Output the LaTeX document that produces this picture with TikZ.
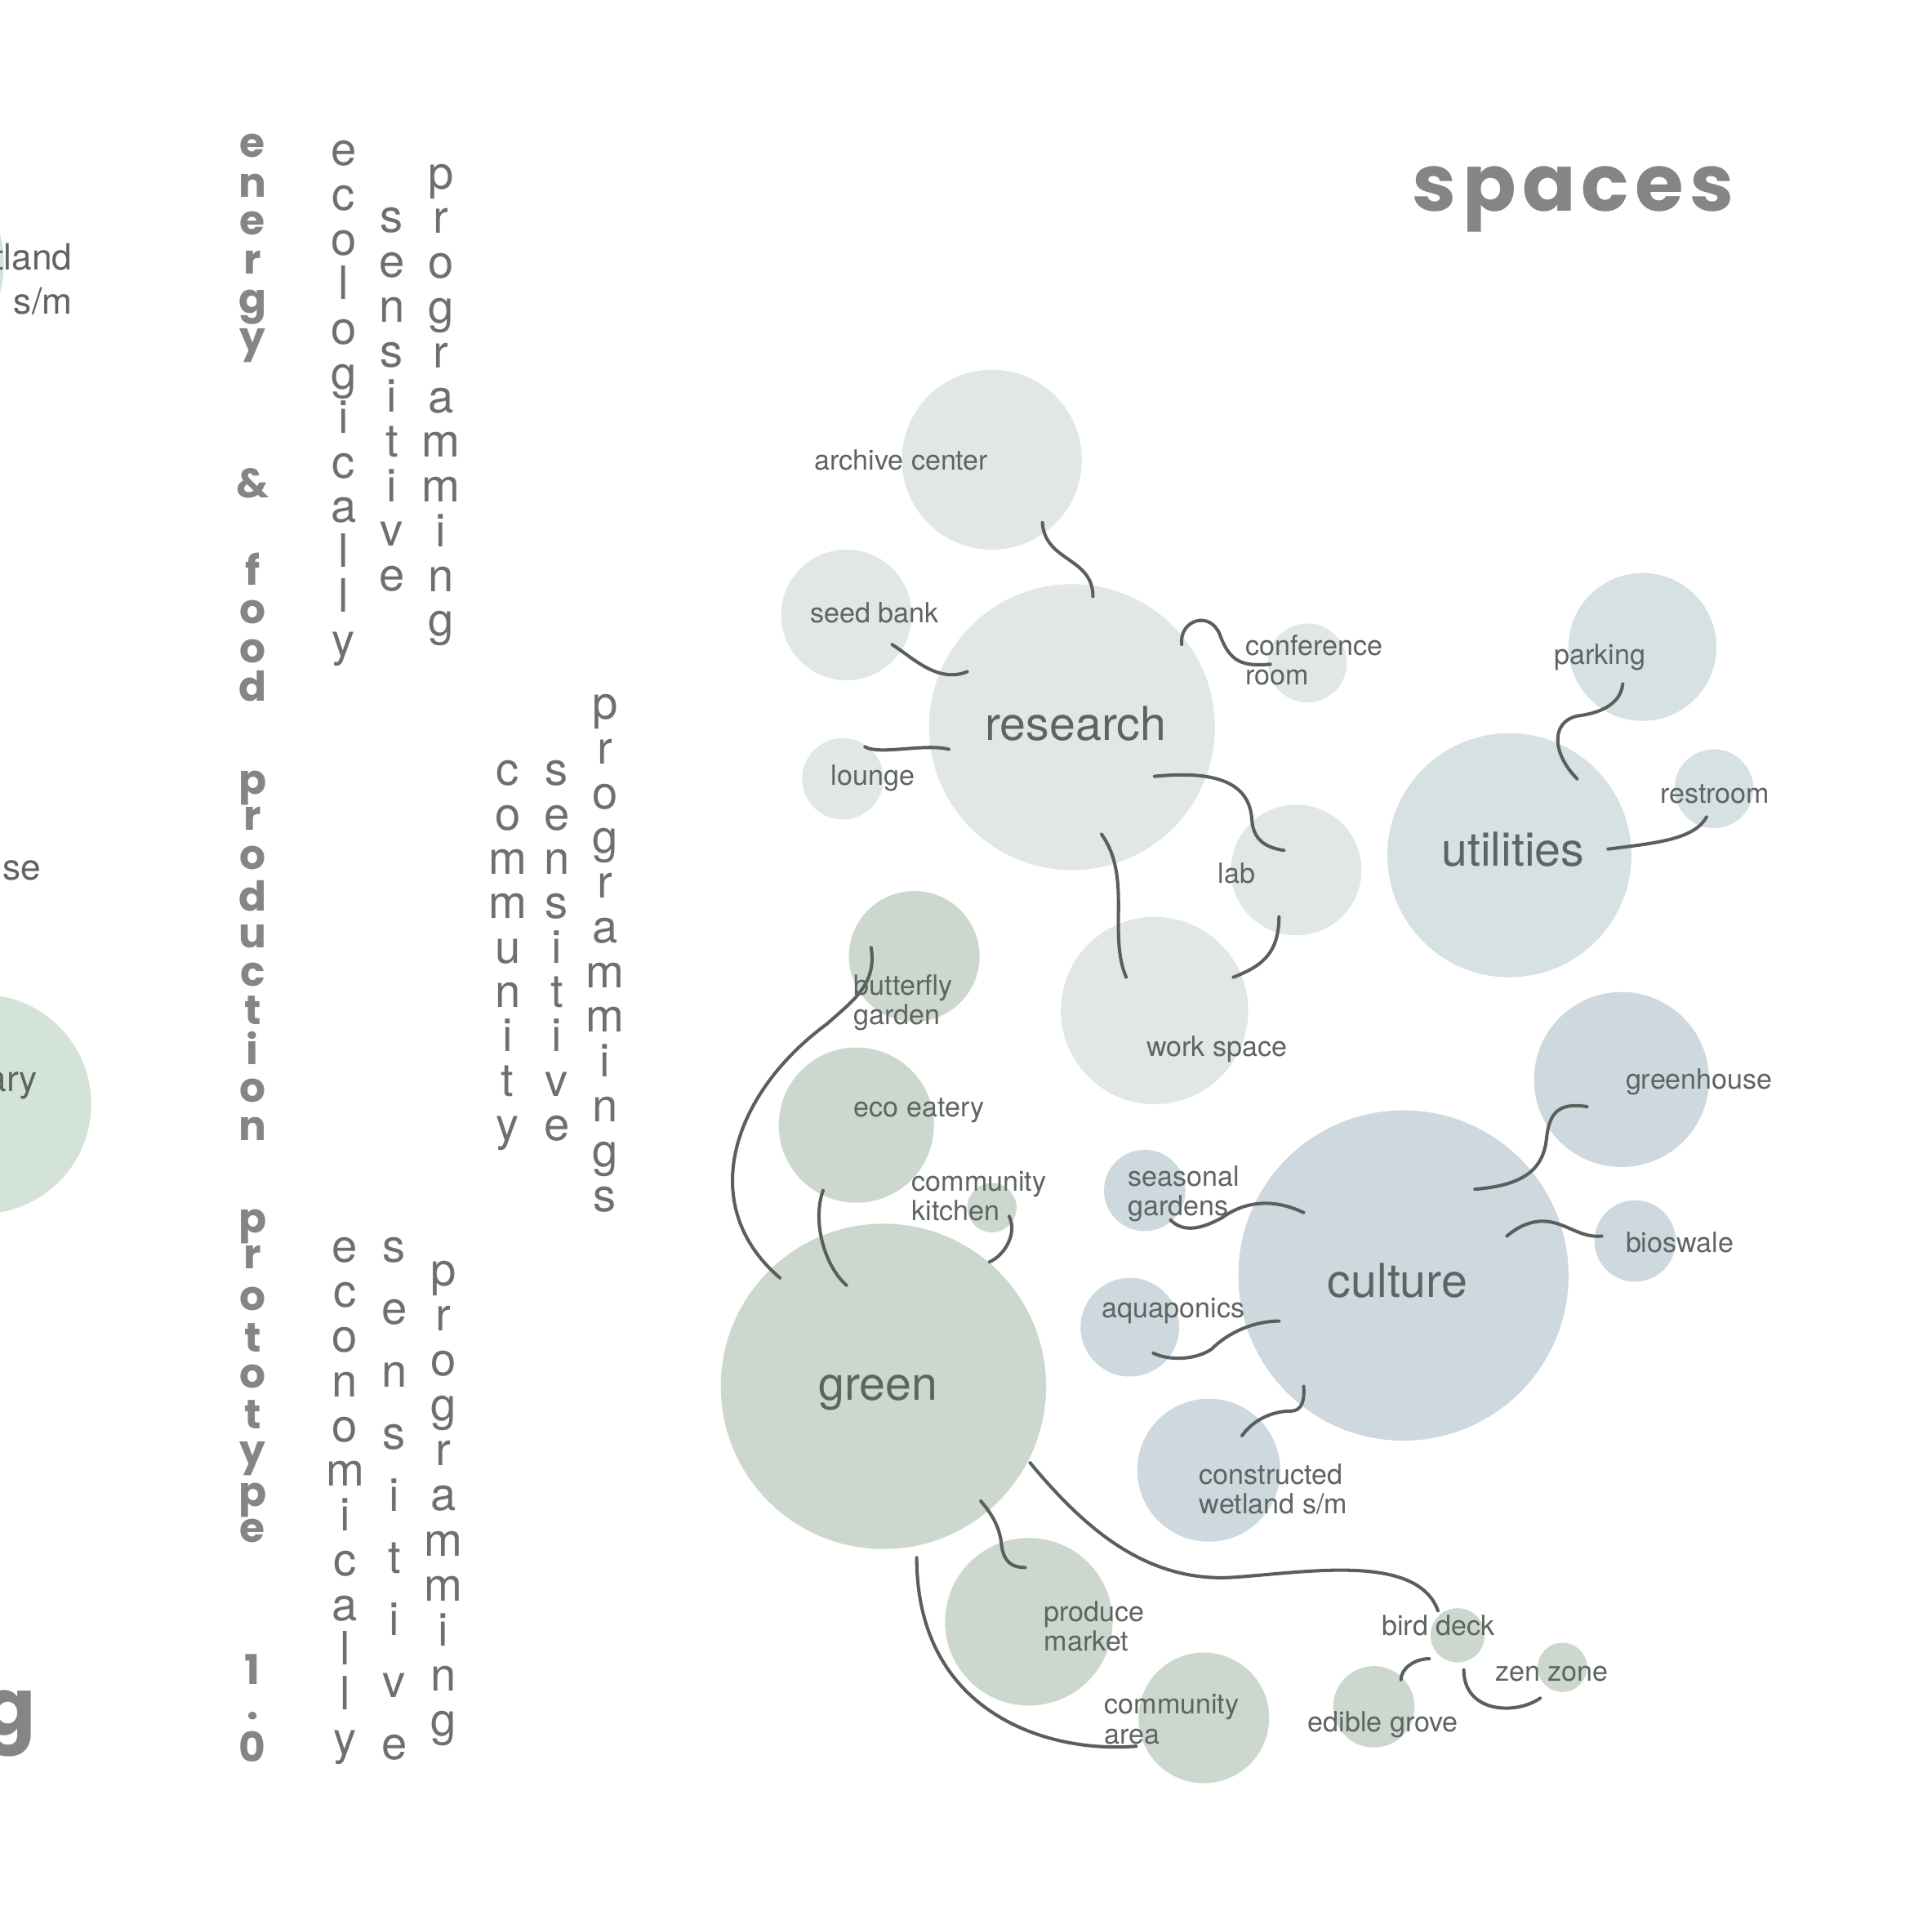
\documentclass[tikz,border=0pt]{standalone}
\usepackage{fontspec}
\setmainfont{TeX Gyre Heros}
\newfontfamily\popfont{Poppins}
\newfontfamily\popwide{Poppins}[LetterSpace=7.5]
\usetikzlibrary{calc}
\definecolor{rescol}{HTML}{E1E7E3}
\definecolor{uticol}{HTML}{D5E1E3}
\definecolor{culcol}{HTML}{CDD9DE}
\definecolor{grncol}{HTML}{CCD8CE}
\definecolor{edgecol}{HTML}{D4E3D8}
\definecolor{labcol}{HTML}{5E6462}
\definecolor{wirecol}{HTML}{5A5F5E}
\definecolor{vcol}{HTML}{6E7070}
\definecolor{boldcol}{HTML}{858585}

\begin{document}
\begin{tikzpicture}[x=0.01509cm,y=-0.01509cm,
		bubble/.style={circle,inner sep=0pt,minimum size=#1*0.03018cm},
		res/.style={bubble=#1,fill=rescol},
		uti/.style={bubble=#1,fill=uticol},
		cul/.style={bubble=#1,fill=culcol},
		grn/.style={bubble=#1,fill=grncol},
		wire/.style={draw=wirecol,line width=1.15pt,line cap=round},
		lbl/.style={anchor=base west,inner sep=0pt,text=labcol,font=\fontsize{9.7}{10.3}\selectfont},
		biglbl/.style={anchor=base west,inner sep=0pt,text=labcol,font=\fontsize{16.3}{18}\selectfont},
		vlet/.style={anchor=base,inner sep=0pt,text=vcol,font=\fontsize{16}{18}\selectfont},
		blet/.style={anchor=base,inner sep=0pt,text=boldcol,font=\popfont\bfseries\fontsize{14.3}{16}\selectfont},
		edgetxt/.style={anchor=base east,inner sep=0pt,text=labcol,font=\fontsize{12.6}{15.5}\selectfont}]
		\fill[white] (0,0) rectangle (1568,1565.3);
		\useasboundingbox (0,0) rectangle (1568,1565.3);

		\node[bubble=100,fill=edgecol] (edgeB) at (-97,214) {};
		\node[bubble=89,fill=edgecol] (edgeA) at (-15,896) {};

		\node[res=73] (arch) at (805,373) {};
		\node[res=116] (res) at (870,590) {};
		\node[res=53] (seed) at (687,499) {};
		\node[res=33] (lounge) at (684,632) {};
		\node[res=32] (conf) at (1061,538) {};
		\node[res=53] (lab) at (1052,706) {};
		\node[res=76] (work) at (937,820) {};

		\node[uti=99] (util) at (1225,694) {};
		\node[uti=60] (park) at (1333,525) {};
		\node[uti=32] (rest) at (1391,640) {};

		\node[cul=134] (cult) at (1139,1035) {};
		\node[cul=71] (ghouse) at (1316,876) {};
		\node[cul=33] (bios) at (1327,1007) {};
		\node[cul=33] (seas) at (929,966) {};
		\node[cul=40] (aqua) at (917,1077) {};
		\node[cul=58] (wet) at (981,1193) {};

		\node[grn=132] (green) at (717,1125) {};
		\node[grn=53] (bfly) at (742,776) {};
		\node[grn=63] (eco) at (695,913) {};
		\node[grn=20] (kitch) at (805,980) {};
		\node[grn=68] (prod) at (835,1316) {};
		\node[grn=53] (carea) at (977,1394) {};
		\node[grn=22] (bird) at (1183,1327) {};
		\node[grn=33] (grove) at (1115,1385) {};
		\node[grn=20] (zen) at (1268,1353) {};

		\draw[wire] ($(arch)+(41,51)$) .. controls +(2,32) and +(0,-32) .. ($(res)+(17,-106)$);
		\draw[wire] ($(seed)+(37,24)$) .. controls +(16,10) and +(-24,10) .. ($(res)+(-85,-45)$);
		\draw[wire] ($(lounge)+(18,-26)$) .. controls +(12,7) and +(-20,-5) .. ($(res)+(-100,18)$);
		\draw[wire] ($(res)+(89,-67)$) .. controls +(-2,-20) and +(-8,-20) .. ++(31,-8)
			.. controls +(8,22) and +(-23,2) .. ($(conf)+(-30,1)$);
		\draw[wire] ($(res)+(67,40)$) .. controls +(50,-5) and +(-2,-30) .. ++(79,35)
			.. controls +(1,17) and +(-14,-2) .. ($(lab)+(-10,-16)$);
		\draw[wire] ($(res)+(24,87)$) .. controls +(25,35) and +(-15,-35) .. ($(work)+(-23,-27)$);
		\draw[wire] ($(lab)+(-14,38)$) .. controls +(0,32) and +(20,-8) .. ($(work)+(64,-27)$);

		\draw[wire] ($(park)+(-16,30)$) .. controls +(-2,18) and +(16,-2) .. ++(-37,26)
			.. controls +(-22,5) and +(-20,-20) .. ($(util)+(55,-62)$);
		\draw[wire] ($(rest)+(-6,23)$) .. controls +(-10,18) and +(40,-5) .. ($(util)+(80,-5)$);

		\draw[wire] ($(ghouse)+(-28,22)$) .. controls +(-25,-4) and +(2,-20) .. ++(-33,27)
			.. controls +(-3,25) and +(38,-3) .. ($(cult)+(58,-70)$);
		\draw[wire] ($(bios)+(-27,-4)$) .. controls +(-18,2) and +(18,0) .. ++(-48,-12)
			.. controls +(-12,0) and +(7,-6) .. ($(cult)+(84,-32)$);
		\draw[wire] ($(seas)+(21,24)$) .. controls +(10,10) and +(-18,10) .. ++(42,-2)
			.. controls +(18,-13) and +(-25,-12) .. ($(cult)+(-81,-51)$);
		\draw[wire] ($(aqua)+(19,21)$) .. controls +(12,6) and +(-14,9) .. ++(47,-3)
			.. controls +(14,-14) and +(-20,0) .. ($(cult)+(-101,37)$);
		\draw[wire] ($(wet)+(27,-28)$) .. controls +(10,-14) and +(-14,0) .. ++(40,-20)
			.. controls +(9,0) and +(1,10) .. ($(cult)+(-81,90)$);

		\draw[wire] ($(bfly)+(-35,-7)$) .. controls +(5,30) and +(20,-18) .. ++(-36,62)
			.. controls +(-75,55) and +(-70,-60) .. ($(green)+(-84,-88)$);
		\draw[wire] ($(eco)+(-27,53)$) .. controls +(-9,25) and +(-18,-16) .. ($(green)+(-30,-82)$);
		\draw[wire] ($(kitch)+(14,7)$) .. controls +(7,14) and +(12,-5) .. ($(green)+(86,-101)$);
		\draw[wire] ($(green)+(79,93)$) .. controls +(12,14) and +(-1,-12) .. ++(17,37)
			.. controls +(2,13) and +(-10,0) .. ($(prod)+(-3,-44)$);
		\draw[wire] ($(green)+(27,139)$) .. controls +(0,126) and +(-72,6) .. ($(carea)+(-55,23)$);
		\draw[wire] ($(green)+(119,62)$) .. controls +(44,53) and +(-70,4) .. ++(164,93)
			.. controls +(60,-4) and +(-17,-47) .. ($(bird)+(-16,-20)$);
		\draw[wire] ($(bird)+(-23,19)$) .. controls +(-12,0) and +(0,-9) .. ($(grove)+(22,-22)$);
		\draw[wire] ($(bird)+(5,28)$) .. controls +(0,35) and +(-20,14) .. ($(zen)+(-18,25)$);

		\node[lbl] (archT) at (660.6,381.7) {archive center};
		\node[lbl] (seedT) at (657,505) {seed bank};
		\node[lbl] (loungeT) at (674,637.5) {lounge};
		\node[lbl,align=left] (confT) at (1010.6,555.5) {conference\\room};
		\node[lbl] (labT) at (988,716.5) {lab};
		\node[lbl] (workT) at (930,857.5) {work space};
		\node[biglbl] (resT) at (799,600.8) {research};

		\node[biglbl] (utilT) at (1169.5,702.6) {utilities};
		\node[lbl] (parkT) at (1261,539) {parking};
		\node[lbl] (restT) at (1347,651.5) {restroom};

		\node[biglbl] (cultT) at (1077,1053) {culture};
		\node[lbl] (ghouseT) at (1319,884) {greenhouse};
		\node[lbl] (biosT) at (1319,1016) {bioswale};
		\node[lbl,align=left] (seasT) at (915,986.5) {seasonal\\gardens};
		\node[lbl] (aquaT) at (894,1069.5) {aquaponics};
		\node[lbl,align=left] (wetT) at (973,1228.5) {constructed\\wetland s/m};

		\node[biglbl] (greenT) at (663.7,1136) {green};
		\node[lbl,align=left] (bflyT) at (692.6,831.5) {butterfly\\garden};
		\node[lbl] (ecoT) at (692.6,906) {eco eatery};
		\node[lbl,align=left] (kitchT) at (739.6,990.5) {community\\kitchen};
		\node[lbl,align=left] (prodT) at (847,1339.5) {produce\\market};
		\node[lbl,align=left] (careaT) at (896,1415) {community\\area};
		\node[lbl] (birdT) at (1121,1327) {bird deck};
		\node[lbl] (groveT) at (1061,1405) {edible grove};
		\node[lbl] (zenT) at (1213,1364) {zen zone};

		\node[anchor=base west,inner sep=0pt,text=boldcol,font=\popwide\bfseries\fontsize{27.5}{30}\selectfont] (title) at (1146,171) {spaces};

		\node[edgetxt] (edgeT1) at (59,219) {tland};
		\node[edgetxt] (edgeT2) at (59,255) {s/m};
		\node[edgetxt] (edgeT3) at (34,714) {se};
		\node[edgetxt] (edgeT4) at (31,886) {ary};
		\node[anchor=base east,inner sep=0pt,text=boldcol,font=\popfont\bfseries\fontsize{27.5}{30}\selectfont] (edgeG) at (30,1408) {g};

		\foreach \c/\y [count=\i] in {e/127.6,n/159.8,e/190.6,r/222.3,g/254.3,y/285,\&/403.8,f/475,o/506.3,o/537.5,d/569,p/644.3,r/673.5,o/705.3,d/739,u/769.3,c/800,t/831.3,i/864,o/894.3,n/925.3,p/1000.3,r/1029.8,o/1063.3,t/1097.3,o/1126.3,t/1159.3,y/1188.3,p/1222.3,e/1251.3,1/1366.8,./1395.5,0/1429.8} {
			\node[blet] (nrg\i) at (205,\y) {\c};
		}
		\foreach \c [count=\i] in {e,c,o,l,o,g,i,c,a,l,l,y} {
			\node[vlet] (eco\i) at (279,{98.3+36.2*\i}) {\c};
		}
		\foreach \c [count=\i] in {s,e,n,s,i,t,i,v,e} {
			\node[vlet] (sen\i) at (318,{152.1+36.4*\i}) {\c};
		}
		\foreach \c [count=\i] in {p,r,o,g,r,a,m,m,i,n,g} {
			\node[vlet] (prog\i) at (358,{116.9+36.3*\i}) {\c};
		}
		\foreach \c [count=\i] in {c,o,m,m,u,n,i,t,y} {
			\node[vlet] (comm\i) at (412,{601.5+36*\i}) {\c};
		}
		\foreach \c [count=\i] in {s,e,n,s,i,t,i,v,e} {
			\node[vlet] (sens\i) at (452,{601.5+36*\i}) {\c};
		}
		\foreach \c [count=\i] in {p,r,o,g,r,a,m,m,i,n,g,s} {
			\node[vlet] (progs\i) at (491,{547.2+36.3*\i}) {\c};
		}
		\foreach \c [count=\i] in {e,c,o,n,o,m,i,c,a,l,l,y} {
			\node[vlet] (econ\i) at (280,{988.2+36.3*\i}) {\c};
		}
		\foreach \c [count=\i] in {s,e,n,s,i,t,i,v,e} {
			\node[vlet] (sensb\i) at (320,{974.1+50.4*\i}) {\c};
		}
		\foreach \c [count=\i] in {p,r,o,g,r,a,m,m,i,n,g} {
			\node[vlet] (progb\i) at (360,{1007+36.5*\i}) {\c};
		}
	\end{tikzpicture}
\end{document}
